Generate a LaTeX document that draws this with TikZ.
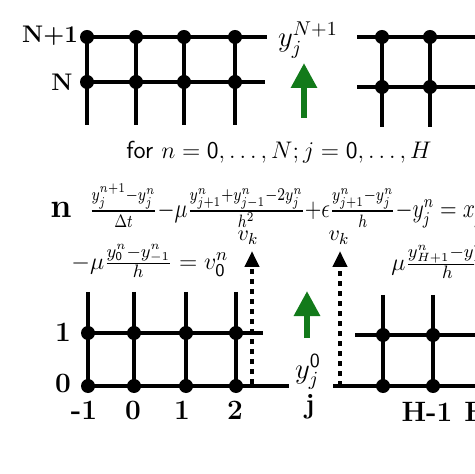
\documentclass[tikz,border=0pt]{standalone}
\usepackage{amsmath}
\usetikzlibrary{arrows.meta}
\definecolor{arrgreen}{RGB}{18,122,26}
\pgfdeclarelayer{background}
\pgfsetlayers{background,main}
\tikzset{
  dot/.style={circle,fill=black,inner sep=0pt,minimum size=7pt},
  gridline/.style={line width=1.6pt},
  lblA/.style={font=\fontsize{12}{14}\selectfont\bfseries,inner sep=0pt},
  lblB/.style={font=\fontsize{14}{16}\selectfont\bfseries,inner sep=0pt},
  lblN/.style={font=\fontsize{17}{19}\selectfont\bfseries,inner sep=0pt},
  mathbig/.style={font=\fontsize{14}{16}\selectfont,inner sep=0pt},
  mathfor/.style={font=\fontsize{12.3}{15}\selectfont,inner sep=0pt},
  matheq/.style={font=\fontsize{12}{14}\selectfont,inner sep=0pt,xscale=0.91,yscale=1.12},
  mathmid/.style={font=\fontsize{13}{15}\selectfont,inner sep=0pt},
  mathsmall/.style={font=\fontsize{11}{13}\selectfont,inner sep=0pt},
  greenarrow/.style={arrgreen,line width=3pt,-{Triangle[width=12.5pt,length=12.5pt]}},
  dotarrow/.style={line width=2pt,dash pattern=on 2.5pt off 2.5pt,-{Triangle[width=7pt,length=8pt]}}
}
\newcommand{\zr}{\mathsf{0}}
\begin{document}
\begin{tikzpicture}[x=0.5pt,y=-0.5pt]
\useasboundingbox (0,0) rectangle (474,474);
\clip (0,0) rectangle (474,474);

% ---------- top left grid ----------
\foreach \i/\x in {1/87,2/136,3/184,4/235} {
  \node[dot] (ta\i) at (\x,37) {};
  \node[dot] (tb\i) at (\x,82) {};
  \coordinate (tc\i) at (\x,125);
}
\coordinate (taE) at (267,37);
\coordinate (tbE) at (265,82);
% ---------- top right grid ----------
\foreach \i/\x in {1/382,2/430} {
  \node[dot] (ra\i) at (\x,37) {};
  \node[dot] (rb\i) at (\x,87) {};
  \coordinate (rc\i) at (\x,127);
}
\coordinate (raS) at (357,37); \coordinate (raE) at (480,37);
\coordinate (rbS) at (357,87); \coordinate (rbE) at (480,87);
% ---------- bottom left grid ----------
\foreach \i/\x in {1/88,2/134,3/186,4/236} {
  \node[dot] (ba\i) at (\x,333) {};
  \node[dot] (bb\i) at (\x,386) {};
  \coordinate (bc\i) at (\x,292);
}
\coordinate (baE) at (263,333);
\coordinate (bbE) at (289,386);
% ---------- bottom right grid ----------
\foreach \i/\x in {1/383,2/433} {
  \node[dot] (ca\i) at (\x,335) {};
  \node[dot] (cb\i) at (\x,386) {};
  \coordinate (cc\i) at (\x,295);
}
\coordinate (caS) at (355,335); \coordinate (caE) at (480,335);
\coordinate (cbS) at (333,386); \coordinate (cbE) at (480,386);

\begin{pgfonlayer}{background}
  \draw[gridline] (ta1.center) -- (taE);
  \draw[gridline] (tb1.center) -- (tbE);
  \foreach \i in {1,...,4} \draw[gridline] (ta\i.center) -- (tc\i);
  \draw[gridline] (raS) -- (raE);
  \draw[gridline] (rbS) -- (rbE);
  \foreach \i in {1,2} \draw[gridline] (ra\i.center) -- (rc\i);
  \draw[gridline] (ba1.center) -- (baE);
  \draw[gridline] (bb1.center) -- (bbE);
  \foreach \i in {1,...,4} \draw[gridline] (bc\i) -- (bb\i.center);
  \draw[gridline] (caS) -- (caE);
  \draw[gridline] (cbS) -- (cbE);
  \foreach \i in {1,2} \draw[gridline] (cc\i) -- (cb\i.center);
\end{pgfonlayer}

% ---------- labels top ----------
\node[lblA] (lNp) at (50,36) {N+1};
\node[lblA] (lN) at (62,82) {N};
\node[mathbig] (yN) at (308,40) {$y_j^{N+1}$};
\coordinate (g1s) at (304,118);
\coordinate (g1e) at (304,63);
\draw[greenarrow] (g1s) -- (g1e);

% ---------- middle text ----------
\node[mathfor] (forline) at (279,152) {\textsf{for} $n=\zr,\ldots,N; j=\zr,\ldots,H$};
\node[lblN] (ln) at (61,210) {n};
\node[matheq,anchor=west] (eq) at (89,206)
  {$\medmuskip=0mu\frac{y_j^{n+1}-y_j^n}{\Delta t}-\mu\frac{y_{j+1}^n+y_{j-1}^n-2y_j^n}{h^2}+\epsilon\frac{y_{j+1}^n-y_j^n}{h}-y_j^n=x_j^n$};

% ---------- bottom ----------
\node[mathsmall] (vk1) at (248,238) {$v_k$};
\node[mathsmall] (vk2) at (339,238) {$v_k$};
\node[mathmid,anchor=west] (bcl) at (71,261) {$\medmuskip=2mu-\mu\frac{y_\zr^n-y_{-1}^n}{h}=v_\zr^n$};
\node[mathmid,anchor=west] (bcr) at (391,262) {$\mu\frac{y_{H+1}^n-y_{H}^n}{h}=v_H^n$};
\coordinate (d1s) at (252,384); \coordinate (d1e) at (252,251);
\coordinate (d2s) at (340,386); \coordinate (d2e) at (340,251);
\draw[dotarrow] (d1s) -- (d1e);
\draw[dotarrow] (d2s) -- (d2e);
\coordinate (g2s) at (307,338);
\coordinate (g2e) at (307,291);
\draw[greenarrow] (g2s) -- (g2e);
\node[mathbig] (y0) at (308,372) {$y_j^\zr$};

\node[lblB] (l1) at (63,332) {1};
\node[lblB] (l0) at (63,383) {0};
\node[lblB] (xm1) at (84,410) {-1};
\node[lblB] (x0) at (133,410) {0};
\node[lblB] (x1) at (182,410) {1};
\node[lblB] (x2) at (235,410) {2};
\node[lblB] (xj) at (310,407) {j};
\node[lblB] (xH1) at (427,412) {H-1};
\node[lblB,anchor=west] (xH) at (464,412) {H};
\end{tikzpicture}
\end{document}
